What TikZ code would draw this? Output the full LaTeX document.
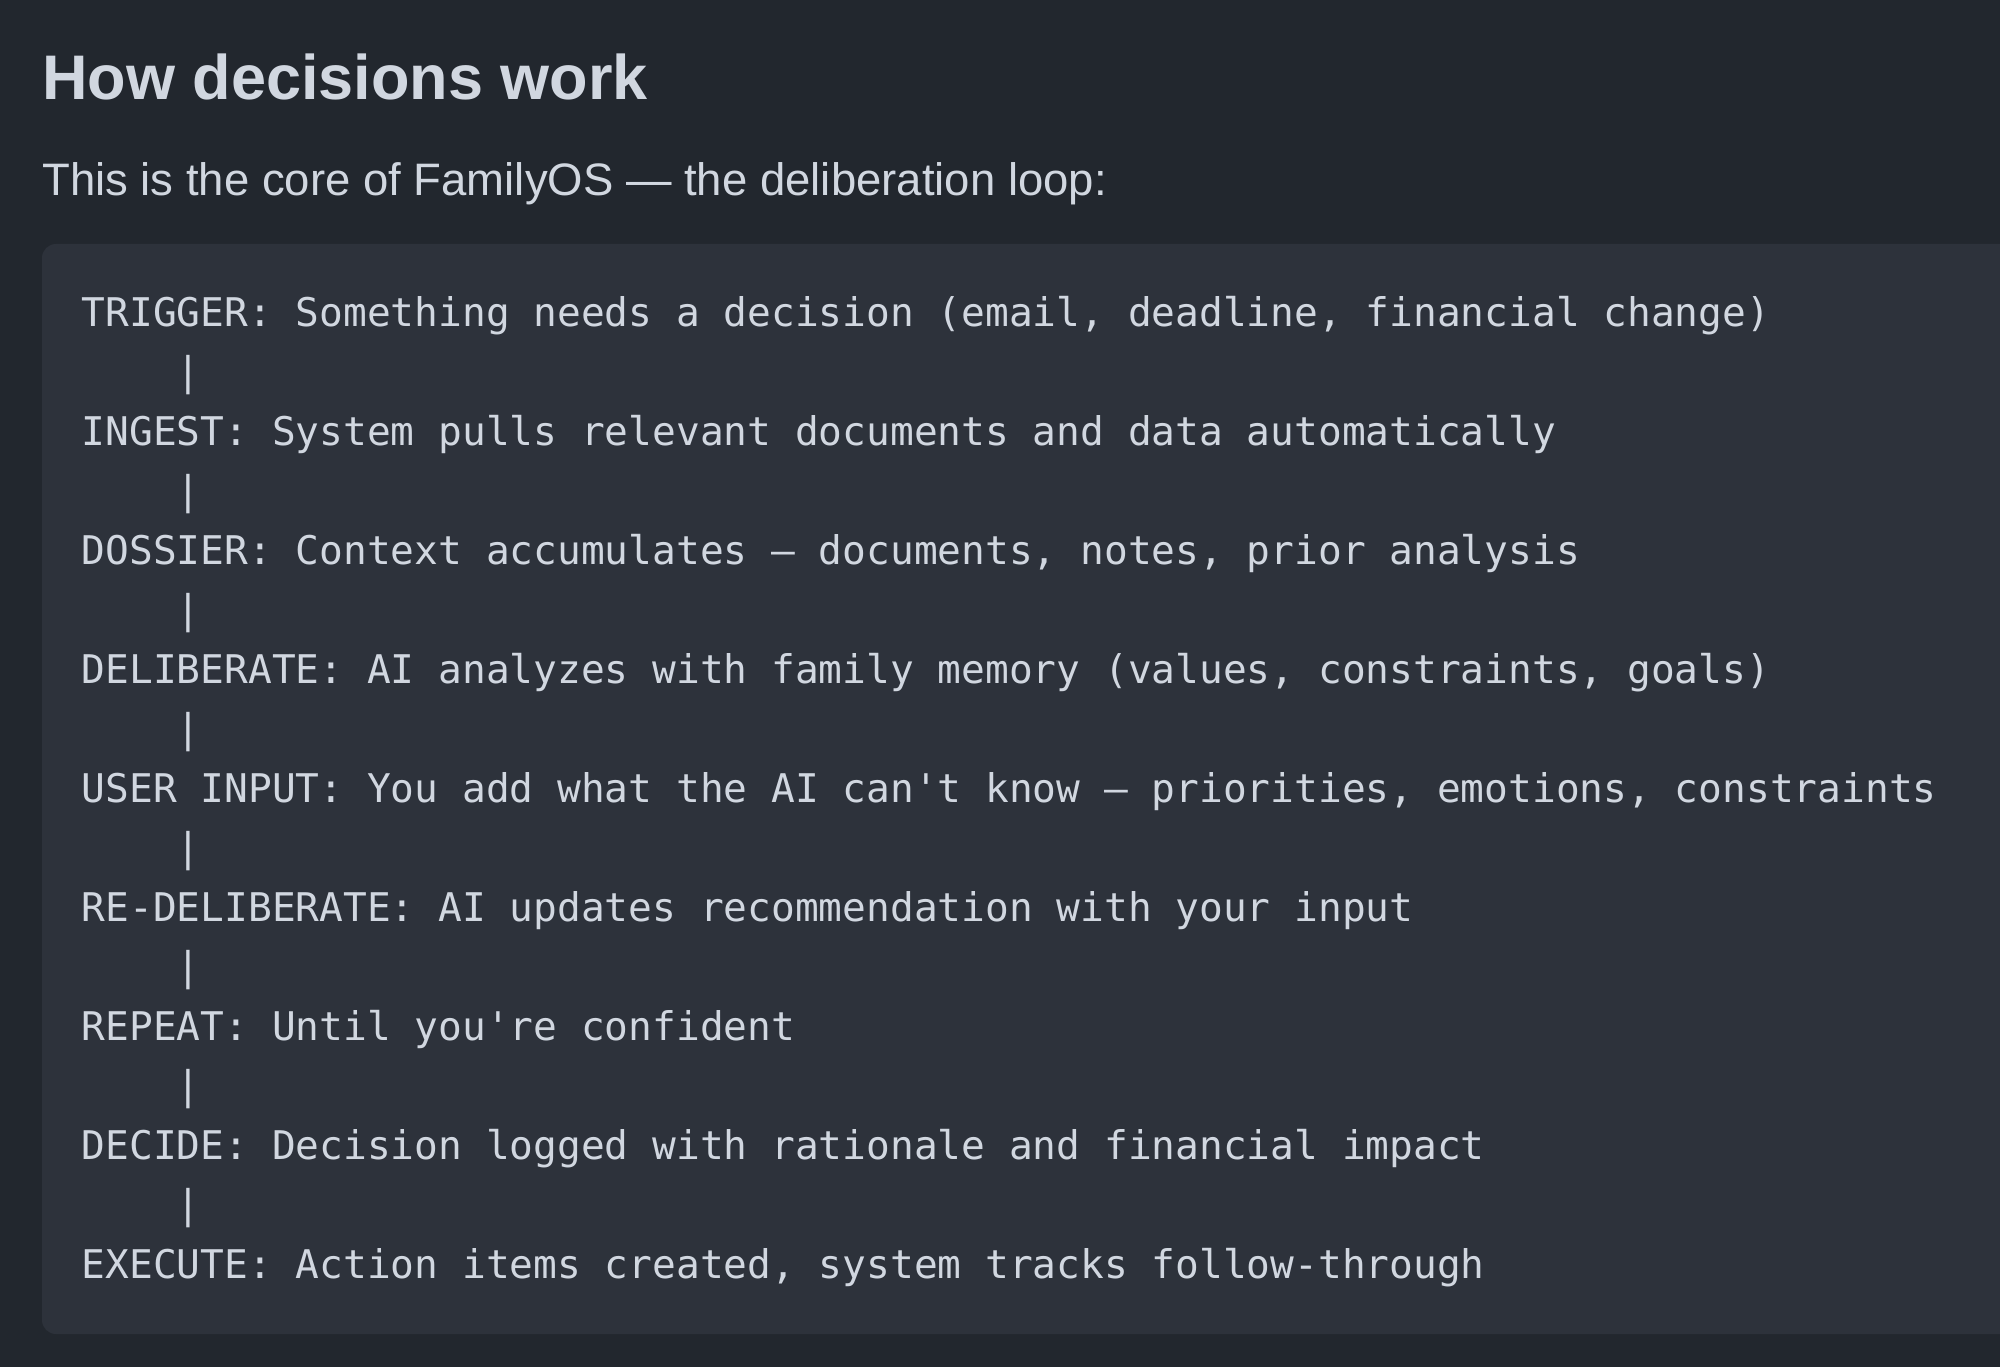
\documentclass[tikz,border=0pt]{standalone}
\usepackage{fontspec}
\setmainfont{Liberation Sans}
\setmonofont{DejaVu Sans Mono}
\definecolor{pagebg}{HTML}{22272E}
\definecolor{codebg}{HTML}{2D323B}
\definecolor{fg}{HTML}{D1D7E0}
\tikzset{
  heading/.style={anchor=base west, inner sep=0pt, text=fg, font=\bfseries\fontsize{63}{70}\selectfont},
  bodytext/.style={anchor=base west, inner sep=0pt, text=fg, font=\fontsize{45.5}{52}\selectfont},
  codeline/.style={anchor=base west, inner sep=0pt, text=fg, font=\ttfamily\fontsize{39.5}{47}\selectfont},
}
\begin{document}
\begin{tikzpicture}[x=1pt,y=-1pt]
\useasboundingbox (0,0) rectangle (2000,1367);
\clip (0,0) rectangle (2000,1367);
\fill[pagebg] (0,0) rectangle (2000,1367);
\fill[codebg, rounded corners=14pt] (42,244) rectangle (2060,1334);
\node[heading] (title) at (42,100) {How decisions work};
\node[bodytext] (intro) at (42,196) {This is the core of FamilyOS — the deliberation loop:};
\node[codeline] (l1) at (81.6,326) {TRIGGER: Something needs a decision (email, deadline, financial change)};
\node[codeline] (p1) at (81.6,385.5) {\ \ \ \ |};
\node[codeline] (l2) at (81.6,445) {INGEST: System pulls relevant documents and data automatically};
\node[codeline] (p2) at (81.6,504.5) {\ \ \ \ |};
\node[codeline] (l3) at (81.6,564) {DOSSIER: Context accumulates — documents, notes, prior analysis};
\node[codeline] (p3) at (81.6,623.5) {\ \ \ \ |};
\node[codeline] (l4) at (81.6,683) {DELIBERATE: AI analyzes with family memory (values, constraints, goals)};
\node[codeline] (p4) at (81.6,742.5) {\ \ \ \ |};
\node[codeline] (l5) at (81.6,802) {USER INPUT: You add what the AI can't know — priorities, emotions, constraints};
\node[codeline] (p5) at (81.6,861.5) {\ \ \ \ |};
\node[codeline] (l6) at (81.6,921) {RE-DELIBERATE: AI updates recommendation with your input};
\node[codeline] (p6) at (81.6,980.5) {\ \ \ \ |};
\node[codeline] (l7) at (81.6,1040) {REPEAT: Until you're confident};
\node[codeline] (p7) at (81.6,1099.5) {\ \ \ \ |};
\node[codeline] (l8) at (81.6,1159) {DECIDE: Decision logged with rationale and financial impact};
\node[codeline] (p8) at (81.6,1218.5) {\ \ \ \ |};
\node[codeline] (l9) at (81.6,1278) {EXECUTE: Action items created, system tracks follow-through};
\end{tikzpicture}
\end{document}
